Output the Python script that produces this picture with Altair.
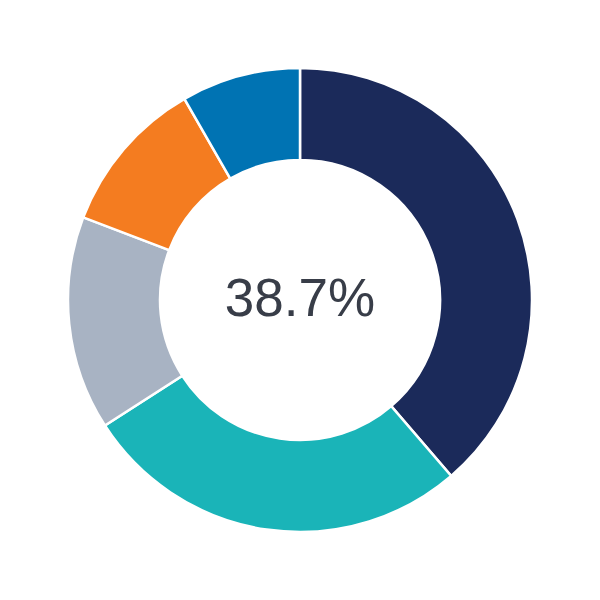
import altair as alt
import pandas as pd

# segments clockwise from 12 o'clock
segments = ["Navy", "Teal", "Gray", "Orange", "Blue"]
shares = [38.7, 27.2, 14.9, 10.9, 8.3]
colors = ["#1b2a5a", "#1ab4b8", "#a8b3c3", "#f47c20", "#0073b3"]
center_label = "38.7%"

df = pd.DataFrame({"segment": segments, "share": shares, "rank": range(len(segments))})

donut = (
    alt.Chart(df)
    .mark_arc(outerRadius=232, innerRadius=140, stroke="white", strokeWidth=2.5)
    .encode(
        theta=alt.Theta("share:Q", stack=True),
        order=alt.Order("rank:O"),
        color=alt.Color("segment:N", sort=segments,
                        scale=alt.Scale(domain=segments, range=colors), legend=None),
    )
)

label = (
    alt.Chart(pd.DataFrame({"t": [center_label]}))
    .mark_text(font="Liberation Sans", fontSize=53, color="#383d48", baseline="middle")
    .encode(text="t:N", x=alt.value(292), y=alt.value(292))
)

chart = (
    (donut + label)
    .properties(width=584, height=584, padding=0, autosize=alt.AutoSizeParams(type="none"))
    .configure_view(stroke=None)
)

chart.save("out.html", embed_options={"renderer": "svg", "actions": False})
